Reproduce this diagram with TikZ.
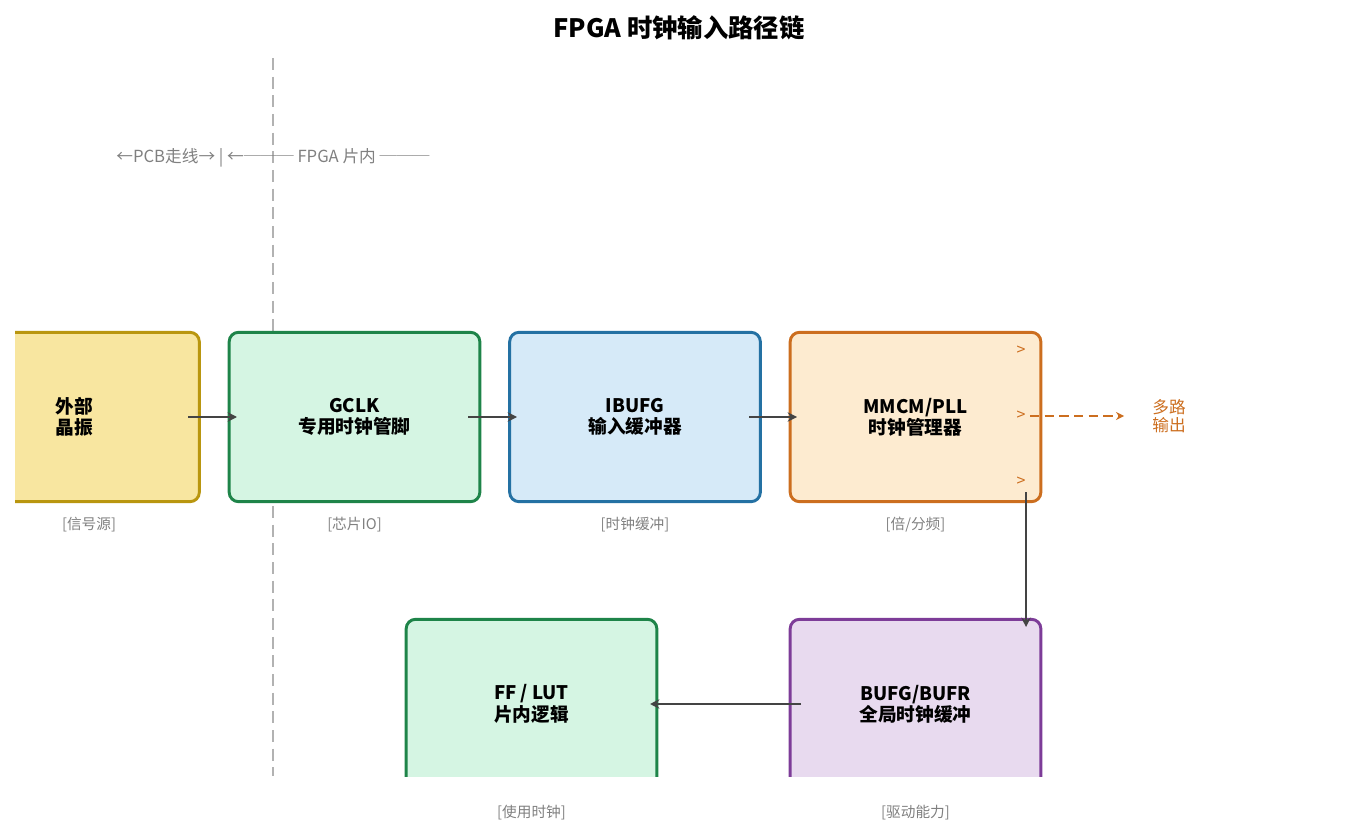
\documentclass[tikz,border=0pt]{standalone}
\usepackage{fontspec}
\setmainfont{Noto Sans CJK SC}
\usetikzlibrary{arrows.meta}
\definecolor{ink}{HTML}{444444}
\definecolor{org}{HTML}{CC6E1F}
\tikzset{
 x=0.75pt,y=-0.75pt,
 box/.style={draw,line width=2.2pt,rounded corners=7pt,minimum width=188pt,minimum height=127pt,inner sep=0pt,font=\fontsize{14}{16}\selectfont\bfseries,align=center},
 sub/.style={text=gray,font=\fontsize{11}{13}\selectfont},
 arr/.style={draw=ink,line width=2.2pt,-{Stealth[length=7pt,width=7pt]}},
}
\begin{document}
\begin{tikzpicture}
\useasboundingbox (0,0) rectangle (1359,837);
\node[font=\fontsize{19}{22}\selectfont\bfseries] (title) at (679,28) {FPGA 时钟输入路径链};
\begin{scope}
\clip (15,56) rectangle (1359,776);
\draw[gray!60,line width=2pt,dash pattern=on 9pt off 5pt] (273,58) -- (273,776);
\node[box,fill=yellow!40!orange!25!white,fill={rgb,255:red,248;green,230;blue,160},draw={rgb,255:red,185;green,150;blue,15}] (xo) at (74,417) {外部\\晶振};
\node[box,fill={rgb,255:red,213;green,245;blue,227},draw={rgb,255:red,30;green,132;blue,73}] (gclk) at (354.5,417) {GCLK\\专用时钟管脚};
\node[box,fill={rgb,255:red,214;green,234;blue,248},draw={rgb,255:red,36;green,113;blue,163}] (ibufg) at (635,417) {IBUFG\\输入缓冲器};
\node[box,fill={rgb,255:red,253;green,235;blue,208},draw=org] (mmcm) at (915.5,417) {MMCM/PLL\\时钟管理器};
\node[box,fill={rgb,255:red,232;green,218;blue,239},draw={rgb,255:red,125;green,60;blue,152}] (bufg) at (915.5,704) {BUFG/BUFR\\全局时钟缓冲};
\node[box,fill={rgb,255:red,213;green,245;blue,227},draw={rgb,255:red,30;green,132;blue,73}] (ff) at (531.5,704) {FF / LUT\\片内逻辑};
\end{scope}
\node[text=gray,font=\fontsize{12.5}{14}\selectfont] (note) at (273,158) {←PCB走线→ | ←─── FPGA 片内 ───};
\node[sub] (s1) at (89,525) {[信号源]};
\node[sub] (s2) at (354.5,525) {[芯片IO]};
\node[sub] (s3) at (635,525) {[时钟缓冲]};
\node[sub] (s4) at (915.5,525) {[倍/分频]};
\node[sub] (s5) at (531.5,813) {[使用时钟]};
\node[sub] (s6) at (915.5,813) {[驱动能力]};
\foreach \yy in {351,416,482} \node[text=org,font=\fontsize{12}{12}\selectfont,inner sep=0pt] at (1021,\yy) {>};
\coordinate (o1) at (1030,416);
\coordinate (o2) at (1124,416);
\draw[org,line width=2pt,dash pattern=on 7pt off 4pt,-{Stealth[length=6pt,width=6pt]}] (o1) -- (o2);
\node[text=org,font=\fontsize{12.5}{13}\selectfont,align=center] (multi) at (1169,416) {多路\\输出};
\path[arr] (188,417) -- (237,417);
\path[arr] (468,417) -- (517,417);
\path[arr] (749,417) -- (797,417);
\path[arr] (1026,492) -- (1026,627);
\path[arr] (801,704) -- (650,704);
\end{tikzpicture}
\end{document}
